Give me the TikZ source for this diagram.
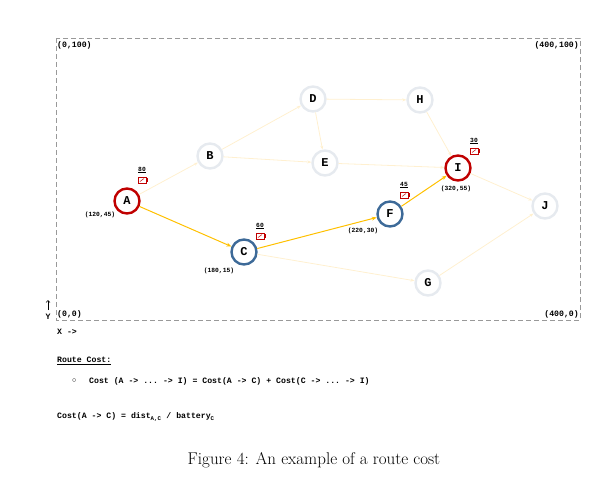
\documentclass[tikz,border=0pt]{standalone}
\usepackage{fontspec}
\setmonofont{Liberation Mono}
\usetikzlibrary{arrows.meta}
\definecolor{redn}{HTML}{C00000}
\definecolor{bluen}{HTML}{3D6A98}
\definecolor{greyn}{HTML}{E6EAEF}
\definecolor{orng}{HTML}{FFC000}
\definecolor{lorng}{HTML}{FFF0D0}
\tikzset{
 nd/.style={circle,draw=greyn,line width=2.4pt,fill=white,minimum size=25pt,inner sep=0pt,font=\ttfamily\bfseries\fontsize{12}{12}\selectfont},
 ndr/.style={nd,draw=redn},
 ndb/.style={nd,draw=bluen},
 lt/.style={draw=lorng,line width=0.8pt,-{Stealth[length=4pt]}},
 hot/.style={draw=orng,line width=1pt,-{Stealth[length=5pt]}},
 sm/.style={font=\ttfamily\bfseries\fontsize{6.3}{7}\selectfont},
 tx/.style={font=\ttfamily\bfseries\fontsize{8.2}{9}\selectfont,anchor=west,inner sep=0pt},
}
\newcommand{\bicon}[2]{%
 \draw[redn,line width=0.6pt] (#1-4,#2-3) rectangle (#1+4,#2+3);
 \draw[redn,line width=0.6pt] (#1+4,#2-1.5) rectangle (#1+5.5,#2+1.5);
 \draw[redn,line width=0.5pt] (#1-2,#2+1.5) -- (#1+2,#2-1.5);}
\begin{document}
\begin{tikzpicture}[x=1pt,y=-1pt]
\useasboundingbox (0,0) rectangle (600,477);
\draw[gray!80,line width=0.8pt,dash pattern=on 5pt off 3pt] (56,38) rectangle (580,320);
\node[tx] at (57,45) {(0,100)};
\node[tx,anchor=east] at (579,45) {(400,100)};
\node[tx] at (57,314) {(0,0)};
\node[tx,anchor=east] at (579,314) {(400,0)};
\node[tx,anchor=center] (yl) at (48,317) {Y};
\draw[line width=0.7pt,-{Straight Barb[length=2pt]}] (48,310) -- (48,300);
\node[tx] (xl) at (57,332) {X ->};

\node[ndr] (A) at (127,201) {A};
\node[nd] (B) at (210,156) {B};
\node[ndb] (C) at (244,252) {C};
\node[nd] (D) at (313,99) {D};
\node[nd] (E) at (325,163) {E};
\node[ndb] (F) at (390,214) {F};
\node[nd] (G) at (428,283) {G};
\node[nd] (H) at (420,100) {H};
\node[ndr] (I) at (458,168) {I};
\node[nd] (J) at (545,206) {J};

\path[lt] (A) -- (B);
\path[lt] (B) -- (D);
\path[lt] (B) -- (E);
\path[lt] (D) -- (E);
\path[lt] (D) -- (H);
\path[lt] (H) -- (I);
\path[lt] (E) -- (I);
\path[lt] (I) -- (J);
\path[lt] (C) -- (G);
\path[lt] (G) -- (J);
\path[hot] (A) -- (C);
\path[hot] (C) -- (F);
\path[hot] (F) -- (I);

\node[sm] (la) at (100,215) {(120,45)};
\node[sm] (lc) at (219,271) {(180,15)};
\node[sm] (lf) at (363,231) {(220,30)};
\node[sm] (li) at (456,189) {(320,55)};

\node[sm] (ba) at (142,170) {\underline{80}};
\bicon{142}{180}
\node[sm] (bc) at (260,226) {\underline{60}};
\bicon{260}{236}
\node[sm] (bf) at (404,185) {\underline{45}};
\bicon{404}{195}
\node[sm] (bi) at (474,141) {\underline{30}};
\bicon{474}{151}

\node[tx] (rc) at (57,361) {\underline{Route Cost:}};
\node[tx] (b1) at (72,381) {$\circ$};
\node[tx] (f1) at (89,381) {Cost (A -> ... -> I) = Cost(A -> C) + Cost(C -> ... -> I)};
\node[tx] (f2) at (57,417) {Cost(A -> C) = dist\textsubscript{A,C} / battery\textsubscript{C}};
\node[font=\fontsize{17}{20}\selectfont] (cap) at (314,460) {Figure 4: An example of a route cost};
\end{tikzpicture}
\end{document}
